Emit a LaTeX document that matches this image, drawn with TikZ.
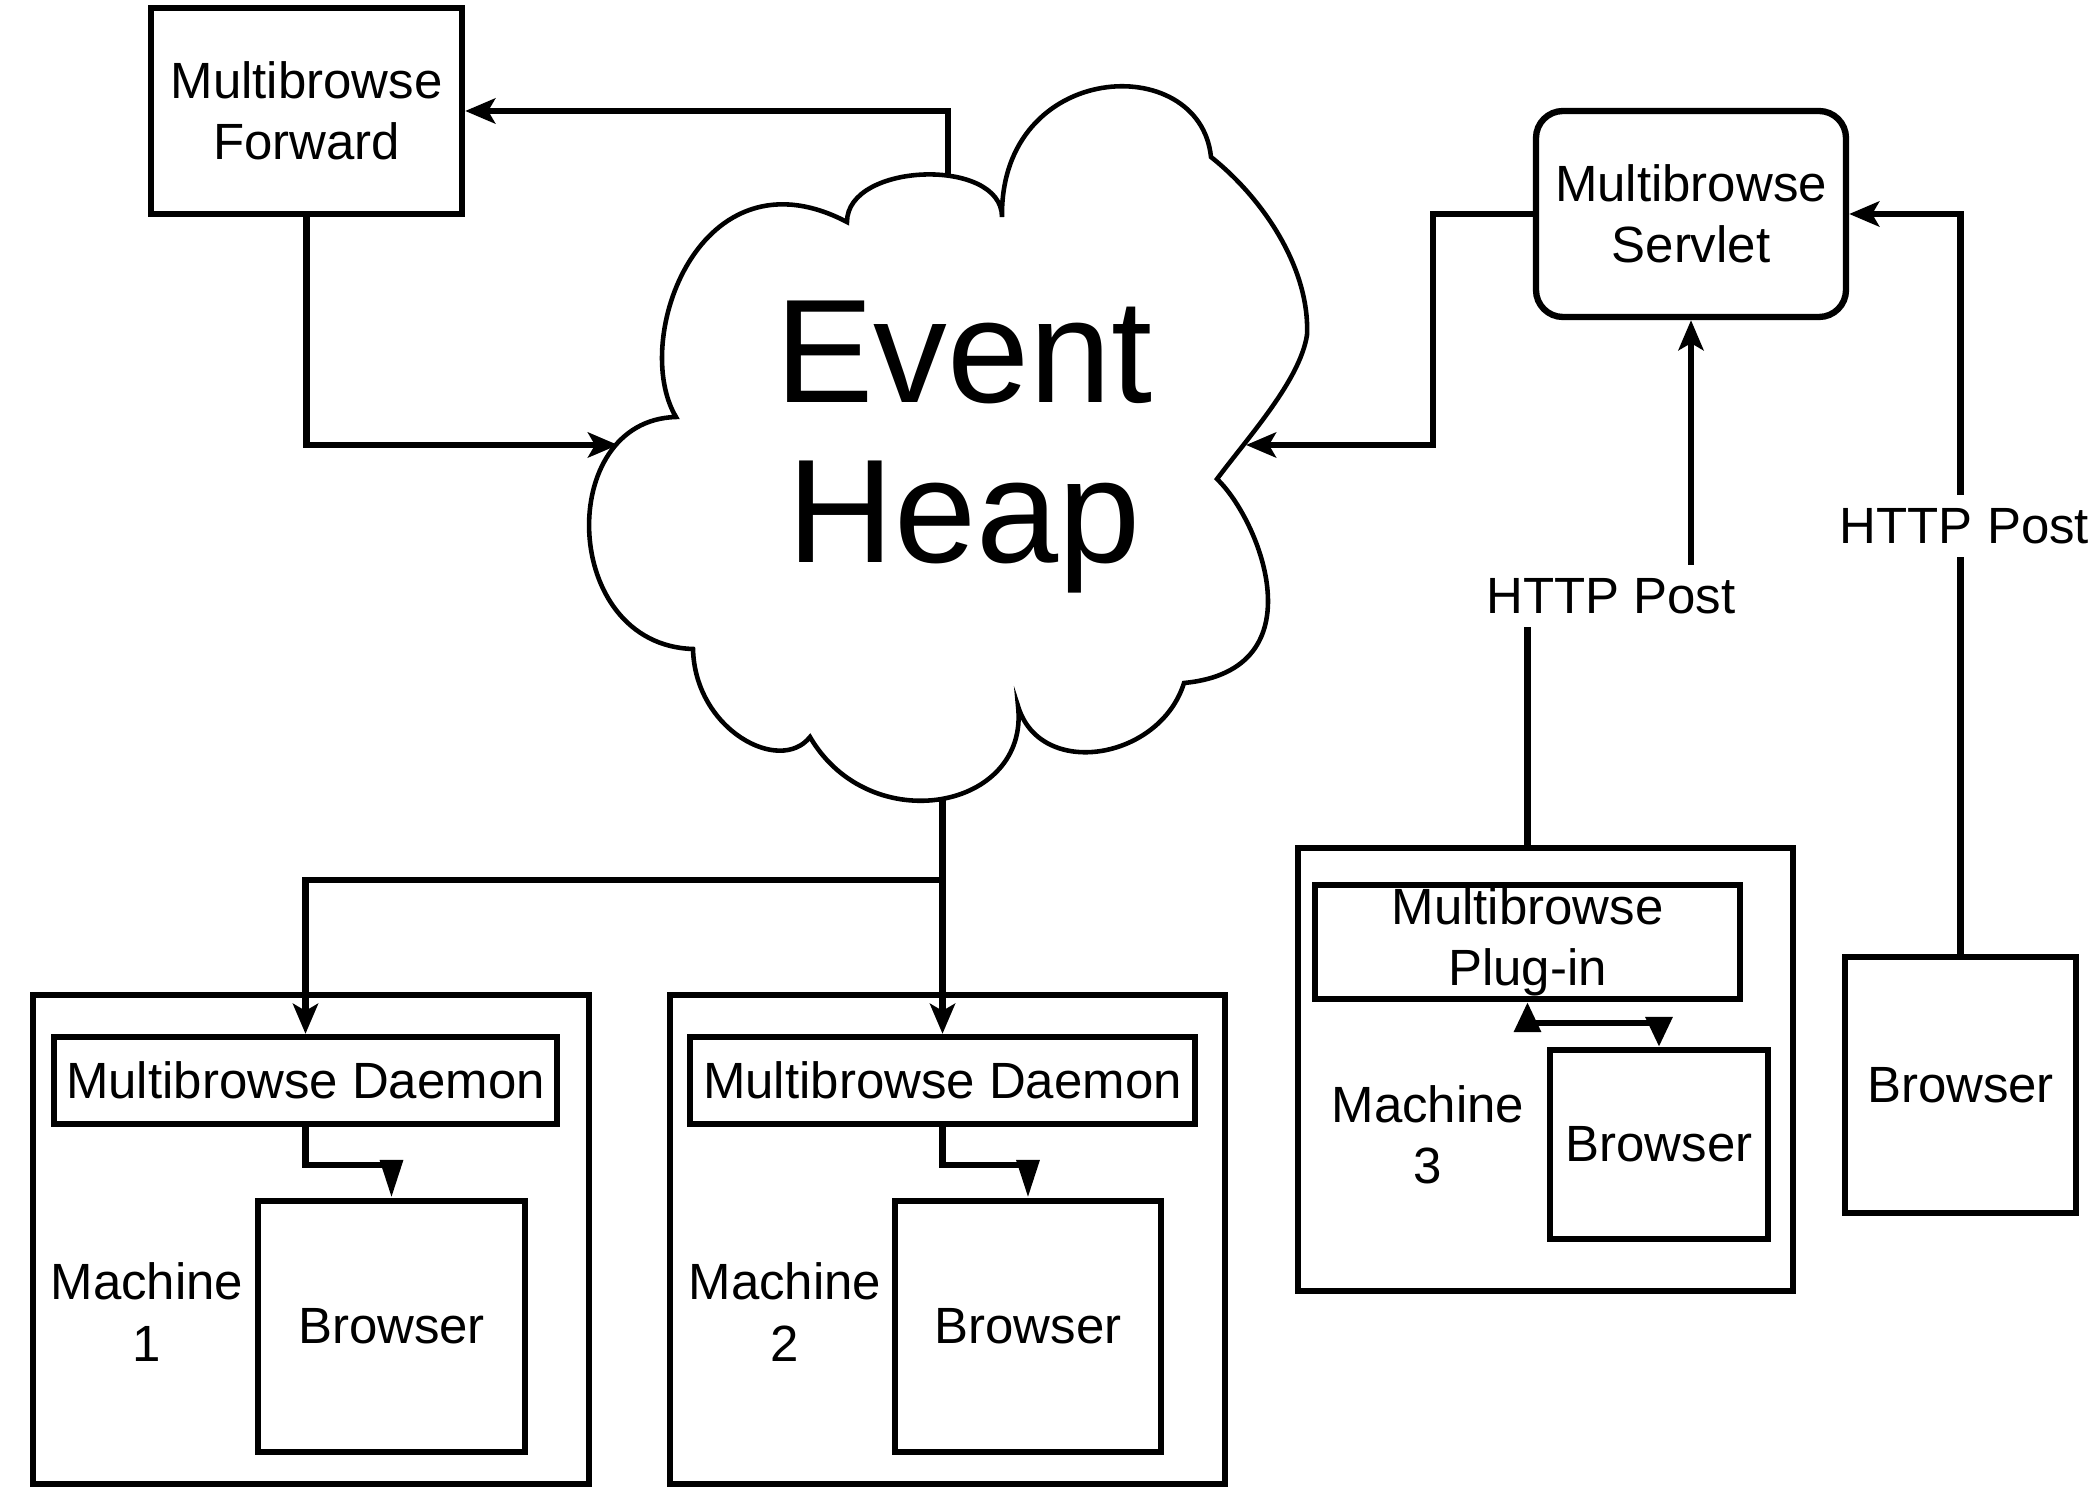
\documentclass[tikz,border=0pt]{standalone}
\usepackage{fontspec}
\setmainfont{Liberation Sans}
\usetikzlibrary{arrows.meta}

\begin{document}
\begin{tikzpicture}[
  box/.style={
    draw,
    line width=1.8pt,
    inner sep=0pt,
    align=center,
    font=\fontsize{14.5}{17.5}\selectfont
  },
  rbox/.style={box, rounded corners=0.27cm},
  txt/.style={
    inner xsep=0pt,
    inner ysep=0.13cm,
    align=center,
    font=\fontsize{14.5}{17.5}\selectfont
  },
  wire/.style={line width=1.8pt},
  link/.style={wire, -{Stealth[length=0.3cm,width=0.25cm,inset=0.07cm]}},
  feed/.style={wire, -{Triangle[length=0.38cm,width=0.22cm]}},
  both/.style={wire, {Triangle[length=0.3cm,width=0.26cm]}-{Triangle[length=0.3cm,width=0.26cm]}}
]
\useasboundingbox (0,0) rectangle (21,-14.93);

\draw[line width=1.3pt] (8.47,-2.22)
  .. controls (8.47,-1.62) and (10.02,-1.57) .. (10.02,-2.17)
  .. controls (10.0,-0.6) and (12.0,-0.5) .. (12.11,-1.57)
  .. controls (12.65,-2.0) and (13.1,-2.7) .. (13.07,-3.35)
  .. controls (13.0,-3.8) and (12.5,-4.35) .. (12.17,-4.79)
  .. controls (12.6,-5.2) and (13.2,-6.7) .. (11.84,-6.83)
  .. controls (11.6,-7.6) and (10.4,-7.8) .. (10.18,-7.06)
  .. controls (10.3,-8.1) and (8.7,-8.4) .. (8.10,-7.37)
  .. controls (7.8,-7.75) and (6.95,-7.3) .. (6.93,-6.49)
  .. controls (5.6,-6.45) and (5.55,-4.2) .. (6.76,-4.17)
  .. controls (6.3,-3.4) and (7.0,-1.45) .. (8.47,-2.22) -- cycle;
\node[inner sep=0pt, align=center, anchor=north, font=\fontsize{42}{45.5}\selectfont] at (9.64,-3.0) (heap) {Event\\Heap};
\coordinate (heaptop) at (9.48,-1.76);
\coordinate (heapleft) at (6.18,-4.45);
\coordinate (heapright) at (12.46,-4.45);
\coordinate (heapbot) at (9.425,-7.99);
\coordinate (split) at (9.425,-8.80);

\node[box, minimum width=3.11cm, minimum height=2.06cm] at (3.065,-1.11) (forward) {Multibrowse\\Forward};
\node[rbox, minimum width=3.10cm, minimum height=2.06cm] at (16.91,-2.14) (servlet) {Multibrowse\\Servlet};

\node[box, minimum width=5.56cm, minimum height=4.89cm] at (3.11,-12.395) (machine1) {};
\node[box, minimum width=5.03cm, minimum height=0.87cm] at (3.055,-10.805) (daemon1) {Multibrowse Daemon};
\node[box, minimum width=2.67cm, minimum height=2.51cm] at (3.915,-13.265) (browser1) {Browser};
\node[txt] at (1.47,-13.12) (mach1) {Machine\\1};

\node[box, minimum width=5.55cm, minimum height=4.89cm] at (9.475,-12.395) (machine2) {};
\node[box, minimum width=5.05cm, minimum height=0.87cm] at (9.425,-10.805) (daemon2) {Multibrowse Daemon};
\node[box, minimum width=2.66cm, minimum height=2.51cm] at (10.28,-13.265) (browser2) {Browser};
\node[txt] at (7.85,-13.12) (mach2) {Machine\\2};

\node[box, minimum width=4.95cm, minimum height=4.43cm] at (15.455,-10.695) (machine3) {};
\node[box, minimum width=4.25cm, minimum height=1.14cm] at (15.275,-9.42) (plugin) {Multibrowse\\Plug-in};
\node[box, minimum width=2.18cm, minimum height=1.89cm] at (16.59,-11.445) (browser3) {Browser};
\node[txt] at (14.28,-11.35) (mach3) {Machine\\3};

\node[box, minimum width=2.31cm, minimum height=2.56cm] at (19.605,-10.85) (browser4) {Browser};

\node[txt] at (16.11,-5.96) (post1) {HTTP Post};
\node[txt] at (19.645,-5.26) (post2) {HTTP Post};

\draw[link] (heaptop) |- (forward.east);
\draw[link] (forward.south) |- (heapleft);
\draw[link] (servlet.west) -- ++(-1.0,0) |- (heapright);
\draw[wire] (heapbot) -- (split);
\draw[link] (split) -| (daemon1.north);
\draw[link] (split) -- (daemon2.north);
\draw[feed] (daemon1.south) -- ++(0,-0.38) -| (browser1.north);
\draw[feed] (daemon2.south) -- ++(0,-0.38) -| (browser2.north);
\draw[both] (plugin.south) -- ++(0,-0.21) -| (browser3.north);
\draw[wire] (machine3.north -| plugin.south) -- (post1.south -| plugin.south);
\draw[link] (post1.north -| servlet.south) -- (servlet.south);
\draw[wire] (browser4.north) -- (post2.south -| browser4.north);
\draw[link] (post2.north -| browser4.north) |- (servlet.east);
\end{tikzpicture}
\end{document}
